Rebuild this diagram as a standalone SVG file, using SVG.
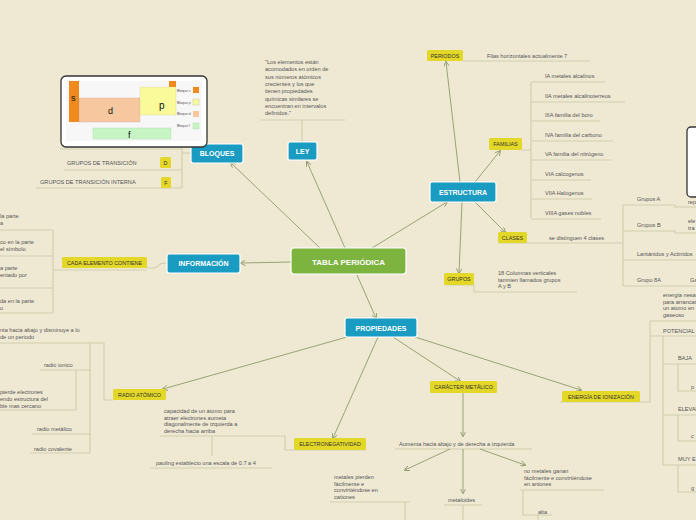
<svg xmlns="http://www.w3.org/2000/svg" width="696" height="520" viewBox="0 0 696 520">
<style>
text{font-family:"Liberation Sans",Arial,sans-serif;font-size:5.6px;fill:#555}
.t text,.tag text{font-size:5.4px;fill:#333}
.b rect{fill:#1a9bc2;stroke:#fff;stroke-width:1.2}
.b text{font-size:7px;font-weight:bold;fill:#fff;text-anchor:middle}
.tag rect{fill:#e3d727}
.tag text{text-anchor:middle}
.u{stroke:#cfcfb0;stroke-width:1.2;fill:none}
.c{stroke:#909b6d;stroke-width:0.9;fill:none;marker-end:url(#a)}
</style>
<defs><marker id="a" viewBox="0 0 6 6" refX="5" refY="3" markerWidth="6" markerHeight="6" orient="auto"><path d="M0,0L6,3L0,6" fill="none" stroke="#909b6d" stroke-width="1"/></marker></defs>
<rect width="696" height="520" fill="#efe9d3"/>
<g id="lines" class="u">
<path d="M60,149H182M64,170H182M36,188H182M182,140V188M182,153H191"/>
<path d="M260,120H345M302,120V142"/>
<path d="M463,61H590"/>
<path d="M522,150H531M531,82V218M531,82H605M531,102H625M531,121H600M531,141H613M531,160H611M531,180H591M531,199H592M531,219H601"/>
<path d="M498,243H623M623,205V286M623,205H675V207H696M623,231H675V233H696M623,260H696M623,286H696"/>
<path d="M444,285H474V292H577"/>
<path d="M53,270H147M53,230V313M0,230H53M0,256H53M0,288H53M0,313H53"/>
<path d="M0,343H104V400H113M90,343V453M40,370H90M76,370V410M0,410H76M32,434H90M30,453H90"/>
<path d="M160,436H285V450H366M212,436V456M150,468H272"/>
<path d="M395,449H532M330,502H410M405,502V520M444,505H482M463,505V520M520,490H604M523,490V515H552M538,515V520"/>
<path d="M560,402H650V321H696M650,336H696M663,336V465M663,364H696M678,364V391H696M663,415H696M678,415V441H696M663,465H696M678,465V492H696"/>
</g>
<g id="connectors">
<path class="c" d="M345,248L307,162"/>
<path class="c" d="M320,248L231,163"/>
<path class="c" d="M372,248L447,202"/>
<path class="c" d="M292,262L241,263"/>
<path class="c" d="M357,275L376,318"/>
<path class="c" d="M460,182L446,62"/>
<path class="c" d="M475,182L500,151"/>
<path class="c" d="M475,202L505,232"/>
<path class="c" d="M462,202L459,273"/>
<path class="c" d="M347,337L163,389"/>
<path class="c" d="M378,337L333,438"/>
<path class="c" d="M393,337L460,381"/>
<path class="c" d="M415,337L581,390"/>
<path class="c" d="M463,393V436"/>
<path class="c" d="M450,449L405,470"/>
<path class="c" d="M463,449V493"/>
<path class="c" d="M480,449L525,465"/>
<path d="M147,268H152Q157,268 160,264Q163,263 167,263" class="u" stroke="#c8c8a8"/>
</g>
<g id="center"><rect x="291" y="248" width="115" height="26" rx="3" fill="#7db33f" stroke="#fff" stroke-width="1.2"/><text x="348.5" y="264.5" style="font-size:8px;font-weight:bold;fill:#fff;text-anchor:middle">TABLA PERIÓDICA</text></g>
<g id="ley" class="b"><rect x="288" y="142" width="29" height="18" rx="2"/><text x="302.5" y="154">LEY</text></g>
<g id="bloques" class="b"><rect x="191" y="144" width="52" height="19" rx="2"/><text x="217" y="156">BLOQUES</text></g>
<g id="estructura" class="b"><rect x="430" y="182" width="66" height="20" rx="2"/><text x="463" y="195">ESTRUCTURA</text></g>
<g id="informacion" class="b"><rect x="167" y="254" width="73" height="19" rx="2"/><text x="203.5" y="266">INFORMACIÓN</text></g>
<g id="propiedades" class="b"><rect x="345" y="318" width="72" height="19" rx="2"/><text x="381" y="330.5">PROPIEDADES</text></g>
<g class="tag">
<g id="periodos"><rect x="427" y="50" width="36" height="11" rx="1.5"/><text x="445" y="57.8">PERIODOS</text></g>
<g id="familias"><rect x="489" y="138" width="33" height="12" rx="1.5"/><text x="505.5" y="146.2">FAMILIAS</text></g>
<g id="clases"><rect x="498" y="232" width="29" height="11" rx="1.5"/><text x="512.5" y="239.8">CLASES</text></g>
<g id="grupos"><rect x="444" y="273" width="30" height="12" rx="1.5"/><text x="459" y="281.2">GRUPOS</text></g>
<g id="cada"><rect x="62" y="257" width="85" height="11" rx="1.5"/><text x="104.5" y="264.8">CADA ELEMENTO CONTIENE</text></g>
<g id="radio"><rect x="113" y="389" width="53" height="11" rx="1.5"/><text x="139.5" y="396.8">RADIO ATÓMICO</text></g>
<g id="electroneg"><rect x="294" y="438" width="72" height="12" rx="1.5"/><text x="330" y="446.2">ELECTRONEGATIVIDAD</text></g>
<g id="caracter"><rect x="430" y="381" width="67" height="12" rx="1.5"/><text x="463.5" y="389.2">CARÁCTER METÁLICO</text></g>
<g id="energia"><rect x="562" y="391" width="78" height="11" rx="1.5"/><text x="601" y="398.8">ENERGÍA DE IONIZACIÓN</text></g>
<g id="d"><rect x="160" y="157" width="11" height="11" rx="1.5"/><text x="165.5" y="164.5">D</text></g>
<g id="f"><rect x="161" y="177" width="10" height="11" rx="1.5"/><text x="166" y="184.5">F</text></g>
</g>
<g id="image">
<rect x="61" y="76" width="146" height="71" rx="5" fill="#fff" stroke="#333" stroke-width="1.3"/>
<rect x="66" y="81" width="136" height="60" fill="#f7f7f7"/>
<rect x="69" y="81" width="10" height="41" fill="#f08a1c"/>
<rect x="79" y="87" width="0" height="0"/>
<rect x="169" y="81" width="7" height="6" fill="#f08a1c"/>
<rect x="79" y="98" width="61" height="24" fill="#f7c7a0" stroke="#c99" stroke-width="0.3"/>
<rect x="140" y="87" width="36" height="28" fill="#fafa9a" stroke="#cc9" stroke-width="0.3"/>
<rect x="93" y="128" width="78" height="11" fill="#c8f5c4" stroke="#9c9" stroke-width="0.3"/>
<text x="71" y="101" style="font-size:9px;fill:#111">s</text>
<text x="108" y="114" style="font-size:9px;fill:#111">d</text>
<text x="159" y="109" style="font-size:10px;fill:#111">p</text>
<text x="128" y="138" style="font-size:9px;fill:#111">f</text>
<text x="177" y="92" style="font-size:3.5px">Bloque s</text><rect x="193" y="87" width="6" height="6" fill="#f08a1c"/>
<text x="177" y="104" style="font-size:3.5px">Bloque p</text><rect x="193" y="99" width="6" height="6" fill="#fafa9a" stroke="#aa8" stroke-width="0.3"/>
<text x="177" y="115" style="font-size:3.5px">Bloque d</text><rect x="193" y="111" width="6" height="6" fill="#f7c7a0"/>
<text x="177" y="127" style="font-size:3.5px">Bloque f</text><rect x="193" y="123" width="6" height="6" fill="#c8f5c4" stroke="#9c9" stroke-width="0.3"/>
</g>
<rect id="rightbox" x="687" y="127" width="20" height="70" rx="4" fill="#fff" stroke="#333" stroke-width="1.3"/>
<g id="texts">
<text x="67" y="165">GRUPOS DE TRANSICIÓN</text>
<text x="40" y="184">GRUPOS DE TRANSICIÓN INTERNA</text>
<text x="265" y="64">"Los elementos están</text><text x="265" y="71.3">acomodados en orden de</text><text x="265" y="78.6">sus números atómicos</text><text x="265" y="85.9">crecientes y los que</text><text x="265" y="93.2">tienen propiedades</text><text x="265" y="100.5">químicas similares se</text><text x="265" y="107.8">encuentran en intervalos</text><text x="265" y="115.1">definidos."</text>
<text x="487" y="58">Filas horizontales actualmente 7</text>
<text x="545" y="78">IA metales alcalinos</text><text x="545" y="98">IIA metales alcalinoterreos</text><text x="545" y="117">IIIA familia del boro</text><text x="545" y="137">IVA familia del carbono</text><text x="545" y="156">VA familia del nitrógeno</text><text x="545" y="176">VIA calcogenos</text><text x="545" y="195">VIIA Halogenos</text><text x="545" y="215">VIIIA gases nobles</text>
<text x="549" y="240">se distinguen 4 clases</text>
<text x="637" y="201">Grupos A</text><text x="637" y="227">Grupos B</text><text x="637" y="256">Lantánidos y Actinidos</text><text x="637" y="282">Grupo 8A</text>
<text x="688" y="204">rep</text><text x="688" y="223">ele</text><text x="688" y="230">tra</text><text x="690" y="282">Ga</text>
<text x="498" y="275">18 Columnas verticales</text><text x="498" y="281.5">tamnien llamados grupos</text><text x="498" y="288">A y B</text>
<text x="0" y="218">la parte</text><text x="0" y="225">a</text><text x="0" y="244">co en la parte</text><text x="0" y="251">el símbolo</text><text x="0" y="270">a parte</text><text x="0" y="277">entado por</text><text x="0" y="303">da en la parte</text><text x="0" y="310">o</text>
<text x="0" y="332">nta hacia abajo y disminuye a lo</text><text x="0" y="339">de un periodo</text>
<text x="44" y="367">radio ionico</text>
<text x="0" y="394">pierde electrones</text><text x="0" y="401">endo estructura del</text><text x="0" y="408">ble mas cercano</text>
<text x="37" y="431">radio metálico</text><text x="34" y="451">radio covalente</text>
<text x="164" y="413">capacidad de un átomo para</text><text x="164" y="419.5">atraer electrones aumeta</text><text x="164" y="426">diagonalmente de izquierda a</text><text x="164" y="432.5">derecha hacia arriba</text>
<text x="156" y="465">pauling establecio una escala de 0.7 a 4</text>
<text x="399" y="446">Aumenta hacia abajo y de derecha a izquierda</text>
<text x="334" y="479">metales pierden</text><text x="334" y="485.5">fácilmente e</text><text x="334" y="492">convirtiéndose en</text><text x="334" y="498.5">cationes</text>
<text x="448" y="502">metaloides</text>
<text x="524" y="473">no metales ganan</text><text x="524" y="479.5">fácilmente e convirtiéndose</text><text x="524" y="486">en aniones</text>
<text x="538" y="514">alta</text>
<text x="663" y="297">energía nesaria</text><text x="663" y="303.5">para arrancar</text><text x="663" y="310">un atomo en</text><text x="663" y="316.5">gaseoso</text>
<text x="663" y="333">POTENCIAL</text><text x="678" y="360">BAJA</text><text x="691" y="389">p</text><text x="678" y="411">ELEVADA</text><text x="691" y="438">c</text><text x="678" y="461">MUY E</text><text x="691" y="490">g</text>
</g>
</svg>
